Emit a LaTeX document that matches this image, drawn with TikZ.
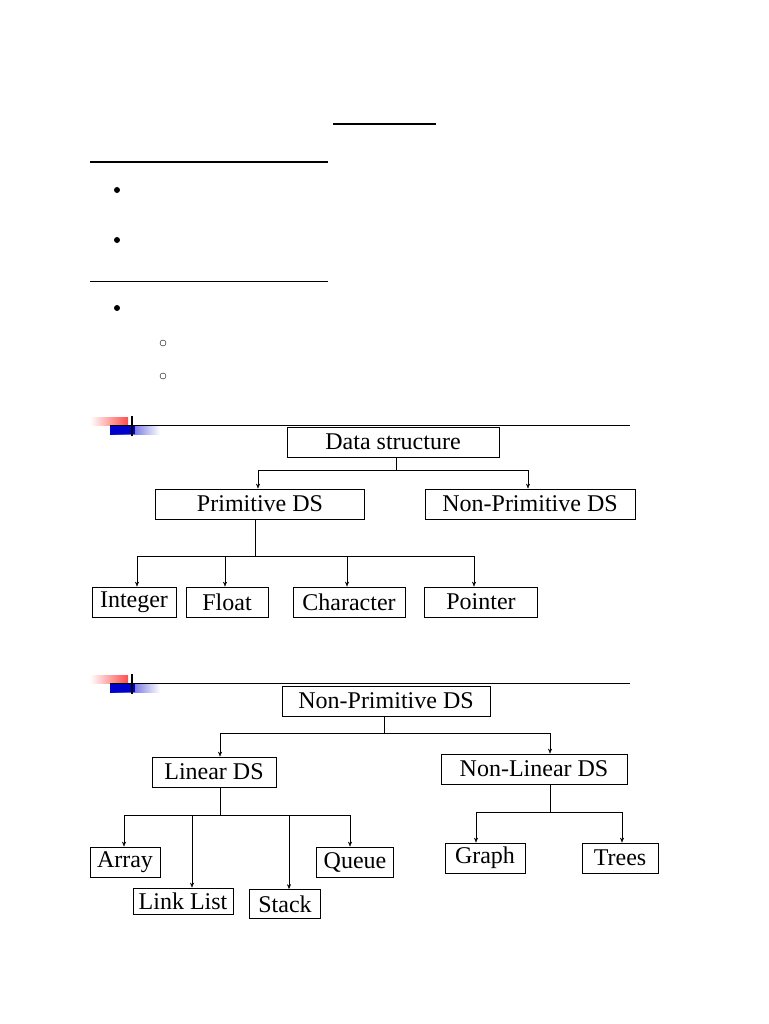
\documentclass[tikz,border=0pt]{standalone}
\usepackage{fontspec}
\setmainfont{Liberation Serif}
\usetikzlibrary{arrows.meta}
\begin{document}
\begin{tikzpicture}[x=1pt,y=-1pt,
 bx/.style={draw,thick,fill=white,inner sep=0pt,font=\fontsize{24}{26}\selectfont},
 ar/.style={-{Stealth[length=5pt,width=4pt]},thin},
 ln/.style={thin}]
\useasboundingbox (0,0) rectangle (768,1024);
% top text skeleton
\draw[line width=1.8pt] (333,124) -- (436,124);
\draw[line width=1.5pt] (90,162) -- (328,162);
\draw[line width=1pt] (90,281) -- (328,281);
\fill (117,190) circle (3);
\fill (117,240) circle (3);
\fill (117,308) circle (3);
\draw (163,343) circle (3);
\draw (163,376) circle (3);
% decorations
\foreach \yy in {425,683}{
 \shade[left color=white,right color=red!70] (90,\yy-8) rectangle (128,\yy);
 \shade[left color=blue!80!black,right color=white] (110,\yy) rectangle (160,\yy+9);
 \fill[blue!80!black] (110,\yy) rectangle (135,\yy+9);
 \draw[line width=1pt] (110,\yy) -- (630,\yy);
 \draw[line width=1.2pt] (132,\yy-9) -- (132,\yy+11);
}
% tree 1
\node[bx,minimum width=212,minimum height=30] (ds) at (393,442) {Data structure};
\node[bx,minimum width=209,minimum height=30] (p) at (260,504) {Primitive DS};
\node[bx,minimum width=210,minimum height=30] (np) at (530,504) {Non-Primitive DS};
\node[bx,minimum width=84,minimum height=30] (int) at (134,602) {Integer};
\node[bx,minimum width=82,minimum height=30] (fl) at (227,602) {Float};
\node[bx,minimum width=112,minimum height=30] (ch) at (349,602) {Character};
\node[bx,minimum width=113,minimum height=30] (po) at (481,602) {Pointer};
\coordinate (a1) at (396,470);
\draw[ln] (ds.south -| a1) -- (a1);
\draw[ln] (258,470) -- (528,470);
\draw[ar] (258,470) -- (p.north -| 258,0);
\draw[ar] (528,470) -- (np.north -| 528,0);
\draw[ln] (p.south -| 255,0) -- (255,556);
\draw[ln] (137,556) -- (474,556);
\draw[ar] (137,556) -- (int.north -| 137,0);
\draw[ar] (225,556) -- (fl.north -| 225,0);
\draw[ar] (347,556) -- (ch.north -| 347,0);
\draw[ar] (474,556) -- (po.north -| 474,0);
% tree 2
\node[bx,minimum width=208,minimum height=30] (np2) at (386,701) {Non-Primitive DS};
\node[bx,minimum width=124,minimum height=30] (lin) at (214,772) {Linear DS};
\node[bx,minimum width=186,minimum height=30] (nl) at (534,769) {Non-Linear DS};
\node[bx,minimum width=70,minimum height=30] (arr) at (125,862) {Array};
\node[bx,minimum width=100,minimum height=26] (ll) at (183,901) {Link List};
\node[bx,minimum width=71,minimum height=29] (st) at (285,904) {Stack};
\node[bx,minimum width=77,minimum height=30] (qu) at (355,862) {Queue};
\node[bx,minimum width=80,minimum height=30] (gr) at (485,858) {Graph};
\node[bx,minimum width=76,minimum height=30] (tr) at (620,858) {Trees};
\draw[ln] (np2.south -| 384,0) -- (384,733);
\draw[ln] (220,733) -- (550,733);
\draw[ar] (220,733) -- (lin.north -| 220,0);
\draw[ar] (550,733) -- (nl.north -| 550,0);
\draw[ln] (lin.south -| 220,0) -- (220,815);
\draw[ln] (124,815) -- (350,815);
\draw[ar] (124,815) -- (arr.north -| 124,0);
\draw[ar] (192,815) -- (ll.north -| 192,0);
\draw[ar] (289,815) -- (st.north -| 289,0);
\draw[ar] (350,815) -- (qu.north -| 350,0);
\draw[ln] (nl.south -| 550,0) -- (550,812);
\draw[ln] (476,812) -- (622,812);
\draw[ar] (476,812) -- (gr.north -| 476,0);
\draw[ar] (622,812) -- (tr.north -| 622,0);
\end{tikzpicture}
\end{document}
